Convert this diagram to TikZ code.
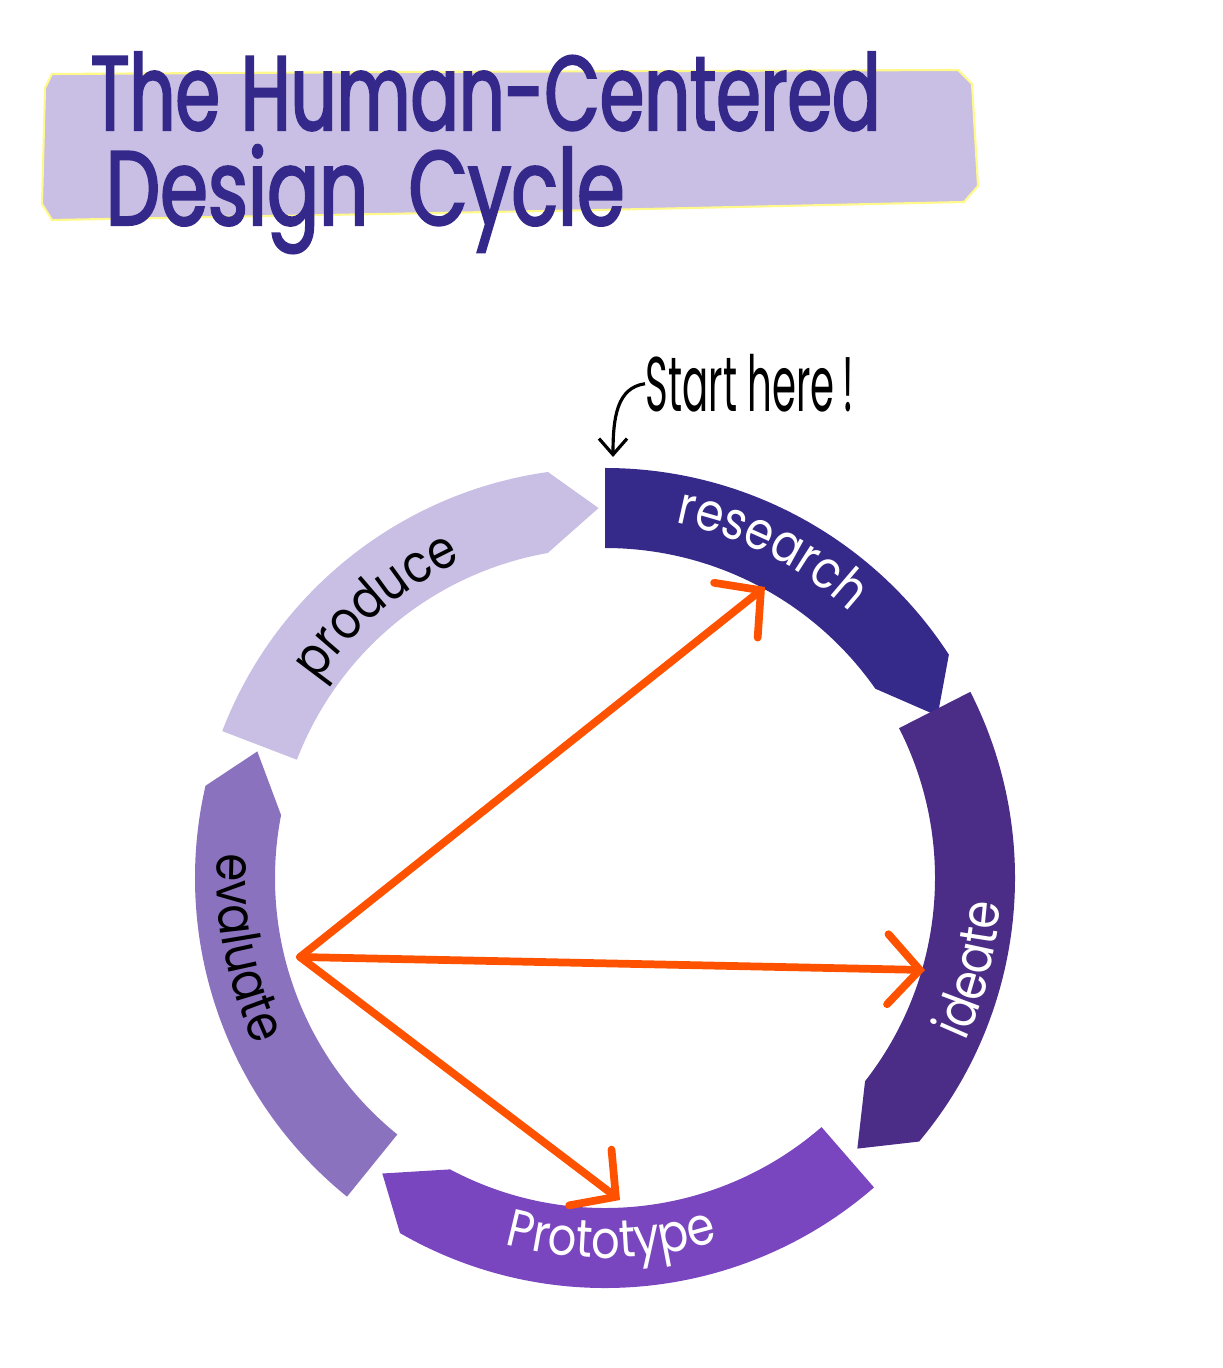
\documentclass[tikz,border=0pt]{standalone}
\usepackage{fontspec}
\setmainfont{Poppins}
\newfontfamily\titlefont[FakeStretch=0.68, FakeBold=2]{Poppins}
\newfontfamily\titlewidefont[FakeStretch=0.73, FakeBold=2]{Poppins}
\newfontfamily\handfont[FakeStretch=0.85]{Poppins}
\newfontfamily\notefont[FakeStretch=0.5]{Poppins}
\usetikzlibrary{arrows.meta, calc, decorations.text}

\definecolor{titlecol}{HTML}{34298A}
\definecolor{titlebg}{HTML}{C9BEE3}
\definecolor{researchcol}{HTML}{35298A}
\definecolor{ideatecol}{HTML}{4B2D87}
\definecolor{protocol}{HTML}{7A46BF}
\definecolor{evalcol}{HTML}{8A72BF}
\definecolor{producecol}{HTML}{C9BEE3}
\definecolor{jumpcol}{HTML}{FF5200}

\begin{document}
\begin{tikzpicture}[x=0.01cm, y=0.01cm,
  labeltext/.style={postaction={decorate}, decoration={text along path, text align=center, text color=#1}},
  jump/.style={draw=jumpcol, line width=2.2pt, line cap=round, -{Straight Barb[length=3.2mm, width=7mm, line cap=round]}}]
  \useasboundingbox (0,0) rectangle (1222,-1368);

  % Title
  \fill[titlebg, draw=yellow!45!white, line width=0.6pt] (45,-88) -- (52,-74) -- (400,-72) -- (958,-70)
    -- (972,-84) -- (978,-186) -- (964,-202) -- (600,-210) -- (52,-220) -- (42,-204) -- cycle;
  \node[anchor=base west, inner sep=0, text=titlecol, font=\titlefont\fontsize{30}{30}\selectfont] (title1) at (90,-130) {The\hspace{0.2em}Human-Centered};
  \node[anchor=base west, inner sep=0, text=titlecol, font=\titlewidefont\fontsize{30}{30}\selectfont] (title2) at (105,-225) {Design\hspace{0.38em}Cycle};

  % Ring of steps
  \coordinate (ctr) at (605,-878);
  \foreach \s/\e/\col in {90/33/researchcol, 27/-40/ideatecol, -49/-120/protocol, 231/167/evalcol, 159/98/producecol} {
    \fill[\col] ($(ctr)+(\s:410)$) arc[start angle=\s, end angle=\e, radius=410]
      -- ($(ctr)+({\e-7}:370)$) -- ($(ctr)+({\e+2}:330)$)
      arc[start angle=\e+2, end angle=\s, radius=330] -- cycle;
  }

  % Step labels
  \path[labeltext=white, decoration={text={|\handfont\fontsize{15}{15}\selectfont|research}}]
    ($(ctr)+(110:362)$) arc[start angle=110, end angle=16, radius=362];
  \path[labeltext=white, decoration={text={|\handfont\fontsize{15}{15}\selectfont|ideate}}]
    ($(ctr)+(-60:396)$) arc[start angle=-60, end angle=32, radius=396];
  \path[labeltext=white, decoration={text={|\handfont\fontsize{15}{15}\selectfont|Prototype}}]
    ($(ctr)+(-135:380)$) arc[start angle=-135, end angle=-43, radius=380];
  \path[labeltext=black, decoration={text={|\handfont\fontsize{15}{15}\selectfont|evaluate}}]
    ($(ctr)+(145:388)$) arc[start angle=145, end angle=237, radius=388];
  \path[labeltext=black, decoration={text={|\handfont\fontsize{15}{15}\selectfont|produce}}]
    ($(ctr)+(175:348)$) arc[start angle=175, end angle=85, radius=348];

  % Start here
  \node[anchor=base west, inner sep=0, font=\notefont\fontsize{22}{22}\selectfont] (starthere) at (645,-412) {Start here\kern0.1em!};
  \coordinate (research-start) at (613,-457);
  \draw[line width=0.9pt, -{Straight Barb[length=1.6mm, width=2.8mm]}] (starthere.west)
    .. controls +(-28,-4) and +(0,40) .. (research-start);

  % Jumps back from evaluate
  \coordinate (hub) at (300,-957);
  \coordinate (to-research) at (765,-587);
  \coordinate (to-ideate) at (925,-970);
  \coordinate (to-proto) at (620,-1200);
  \draw[jump] (hub) -- (to-research);
  \draw[jump] (hub) -- (to-ideate);
  \draw[jump] (hub) -- (to-proto);
\end{tikzpicture}
\end{document}
